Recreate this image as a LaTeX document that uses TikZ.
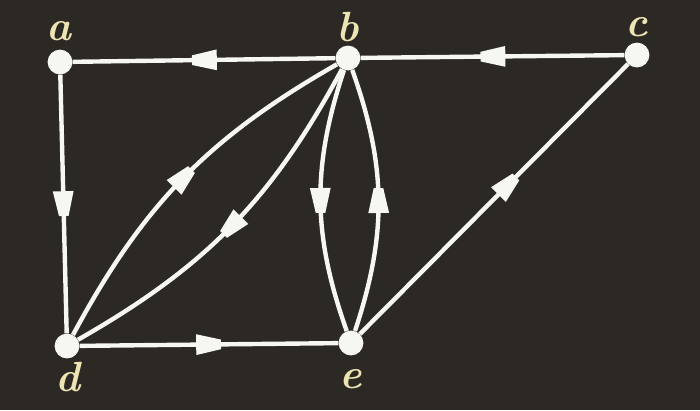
\documentclass[tikz,border=0pt]{standalone}
\usetikzlibrary{decorations.markings}
\definecolor{bgc}{RGB}{44,41,37}
\definecolor{edgec}{RGB}{246,246,242}
\definecolor{labc}{RGB}{236,228,178}
\tikzset{
  vtx/.style={circle,fill=edgec,draw=none,minimum size=0.62cm,inner sep=0pt},
  lab/.style={text=labc,inner sep=0pt,font=\fontsize{30}{30}\selectfont\bfseries\itshape},
  edg/.style={draw=edgec,line width=0.11cm},
  midarrow/.style={postaction={decorate},decoration={markings,
    mark=at position #1 with {\fill[edgec] (-0.32cm,0.26cm) -- (0.3cm,0.12cm) -- (0.3cm,-0.12cm) -- (-0.32cm,-0.26cm) -- cycle;}}},
  midarrow/.default=0.5
}
\begin{document}
\begin{tikzpicture}[x=0.025cm,y=-0.025cm]
\fill[bgc] (0,0) rectangle (700,410);
\useasboundingbox (0,0) rectangle (700,410);
\node[vtx] (a) at (60,62) {};
\node[vtx] (b) at (348,58) {};
\node[vtx] (c) at (637,55) {};
\node[vtx] (d) at (67,346) {};
\node[vtx] (e) at (351,343) {};
\node[lab] (la) at (59,31) {a};
\node[lab] (lb) at (348,27) {b};
\node[lab] (lc) at (637,27) {c};
\node[lab] (ld) at (68,377) {d};
\node[lab] (le) at (351,379) {e};
\draw[edg,midarrow] (b) -- (a);
\draw[edg,midarrow] (c) -- (b);
\draw[edg,midarrow] (a) -- (d);
\draw[edg,midarrow] (d) -- (e);
\draw[edg,midarrow=0.55] (e) -- (c);
\draw[edg,midarrow] (d) to[bend left=16] (b);
\draw[edg,midarrow] (b) to[bend left=16] (d);
\draw[edg,midarrow] (b) to[bend right=19] (e);
\draw[edg,midarrow] (e) to[bend right=19] (b);
\end{tikzpicture}
\end{document}
